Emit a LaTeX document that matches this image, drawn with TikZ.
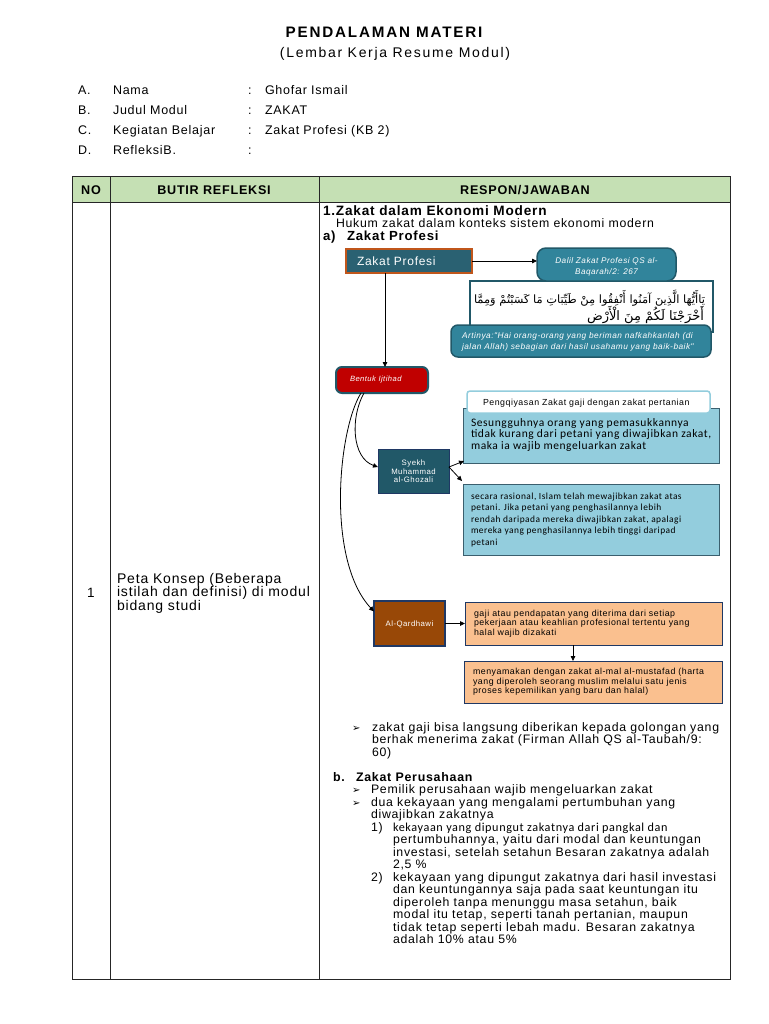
\documentclass[tikz,border=0pt]{standalone}
\usepackage{fontspec}
\usepackage{graphicx}
\usetikzlibrary{arrows.meta}
\setmainfont{Liberation Sans}
\newfontfamily\bodyf[LetterSpace=6]{Liberation Sans}
\newfontfamily\titlef[LetterSpace=12]{Liberation Sans}
\newfontfamily\subf[LetterSpace=12]{Liberation Sans}
\newfontfamily\calfa[LetterSpace=5]{Carlito}
\newfontfamily\calfb[LetterSpace=5]{Carlito}
\newfontfamily\calfc[LetterSpace=5]{Carlito}
\newfontfamily\arabicfont[Script=Arabic]{DejaVu Sans}
\newfontfamily\symf{DejaVu Sans}
\TeXXeTstate=1
\newcommand\fsz[1]{\fontsize{#1}{#1}\selectfont}
\definecolor{hdrgreen}{HTML}{C5E0B4}
\definecolor{zpteal}{HTML}{2A6172}
\definecolor{zporange}{HTML}{C0561B}
\definecolor{tealmid}{HTML}{31849B}
\definecolor{tealdark}{HTML}{215868}
\definecolor{bentred}{HTML}{C00000}
\definecolor{lblue}{HTML}{93CDDD}
\definecolor{lblueborder}{HTML}{3B5F6E}
\definecolor{qarbrown}{HTML}{984807}
\definecolor{navy}{HTML}{1F3864}
\definecolor{peach}{HTML}{FAC08F}
\tikzset{
  t/.style={inner sep=0pt, outer sep=0pt, anchor=base west},
  tc/.style={inner sep=0pt, outer sep=0pt, anchor=base},
  boxbase/.style={inner sep=0pt, outer sep=0pt, anchor=north west},
  tblline/.style={draw=black!85, line width=1pt},
  arr/.style={-{Triangle[length=5pt,width=4.5pt]}, line width=0.8pt, black},
  body/.style={t, font=\bodyf\fsz{12.3}},
  bodyb/.style={t, font=\bodyf\bfseries\fsz{12.4}},
  bul/.style={t, font=\symf\fsz{10}},
  wsmall/.style={tc, text=white, font=\bodyf\fsz{7.8}},
  orng/.style={t, font=\bodyf\fsz{8.8}},
  hd/.style={t, font=\bodyf\fsz{12.5}},
  arabline/.style={inner sep=0pt, outer sep=0pt, anchor=north east, font=\arabicfont},
}
\begin{document}
\begin{tikzpicture}[x=1pt,y=-1pt]
\useasboundingbox (0,0) rectangle (768,1024);
\fill[white] (0,0) rectangle (768,1024);

% ---------- heading ----------
\node[tc, font=\titlef\bfseries\fsz{15.2}] (title) at (384,38) {PENDALAMAN MATERI};
\node[tc, font=\subf\fsz{14}] (subtitle) at (395,57.5) {(Lembar Kerja Resume Modul)};

\node[hd] (la) at (78,95) {A.};
\node[hd] (na) at (113,95) {Nama};
\node[hd] (ca) at (248,95) {:};
\node[hd] (va) at (265,95) {Ghofar Ismail};
\node[hd] (lb) at (78,115) {B.};
\node[hd] (nb) at (113,115) {Judul Modul};
\node[hd] (cb) at (248,115) {:};
\node[hd] (vb) at (265,115) {ZAKAT};
\node[hd] (lc) at (78,135) {C.};
\node[hd] (nc) at (113,135) {Kegiatan Belajar};
\node[hd] (cc) at (248,135) {:};
\node[hd] (vc) at (265,135) {Zakat Profesi (KB 2)};
\node[hd] (ld) at (78,154.5) {D.};
\node[hd] (nd) at (113,154.5) {RefleksiB.};
\node[hd] (cd) at (248,154.5) {:};

% ---------- table ----------
\fill[hdrgreen] (72,177) rectangle (730,203);
\draw[tblline] (72,177) rectangle (730,979);
\draw[tblline] (72,203) -- (730,203);
\draw[tblline] (110,177) -- (110,979);
\draw[tblline] (319,177) -- (319,979);
\node[tc, font=\bodyf\bfseries\fsz{12.6}] (hno) at (91,194.5) {NO};
\node[tc, font=\bodyf\bfseries\fsz{12.6}] (hbut) at (214,194.5) {BUTIR REFLEKSI};
\node[tc, font=\bodyf\bfseries\fsz{12.6}] (hres) at (525,194.5) {RESPON/JAWABAN};

\node[tc, font=\bodyf\fsz{13.5}] (no1) at (91,597) {1};
\node[t, font=\bodyf\fsz{14}] (pk1) at (117,583) {Peta Konsep (Beberapa};
\node[t, font=\bodyf\fsz{14}] (pk2) at (117,596.5) {istilah dan definisi) di modul};
\node[t, font=\bodyf\fsz{14}] (pk3) at (117,610) {bidang studi};

% ---------- right column top text ----------
\node[t, font=\bodyf\bfseries\fsz{13.6}] (h1) at (323,216) {1.Zakat dalam Ekonomi Modern};
\node[body] (h1b) at (336,228) {Hukum zakat dalam konteks sistem ekonomi modern};
\node[t, font=\bodyf\bfseries\fsz{13.2}] (ha) at (323,240.5) {a)};
\node[t, font=\bodyf\bfseries\fsz{13.2}] (hab) at (347,240.5) {Zakat Profesi};

% ---------- concept map ----------
\node[boxbase, fill=white, draw=tealdark, line width=2pt, minimum width=243pt, minimum height=51pt] (arab) at (470,281) {};
\node[boxbase, fill=tealmid, draw=tealdark, line width=1.5pt, rounded corners=9pt, minimum width=139pt, minimum height=33pt] (dalil) at (537,248) {};
\node[tc, text=white, font=\bodyf\itshape\fsz{8.2}] (dal1) at (606.5,263.5) {Dalil Zakat Profesi QS al-};
\node[tc, text=white, font=\bodyf\itshape\fsz{8.2}] (dal2) at (606.5,274.5) {Baqarah/2: 267};
\node[arabline] (arab1) at (705,290) {\resizebox{231pt}{!}{\beginR يَاأَيُّهَا الَّذِينَ آمَنُوا أَنْفِقُوا مِنْ طَيِّبَاتِ مَا كَسَبْتُمْ وَمِمَّا\endR}};
\node[arabline] (arab2) at (704,306) {\resizebox{117pt}{!}{\beginR أَخْرَجْنَا لَكُمْ مِنَ الْأَرْضِ\endR}};
\node[boxbase, fill=tealmid, draw=tealdark, line width=1.5pt, rounded corners=7pt, minimum width=260pt, minimum height=32pt] (arti) at (451,325) {};
\node[t, text=white, font=\bodyf\itshape\fsz{8.3}] (art1) at (462,338.5) {Artinya:"Hai orang-orang yang beriman nafkahkanlah (di};
\node[t, text=white, font=\bodyf\itshape\fsz{8.3}] (art2) at (462,349.5) {jalan Allah) sebagian dari hasil usahamu yang baik-baik"};

\node[boxbase, fill=zpteal, draw=zporange, line width=2pt, minimum width=126pt, minimum height=24pt] (zp) at (346,249) {};
\node[t, text=white, font=\bodyf\fsz{12}] (zptxt) at (357,265.5) {Zakat Profesi};

\node[boxbase, fill=bentred, draw=tealdark, line width=2pt, rounded corners=6pt, minimum width=92pt, minimum height=26pt] (bent) at (336,367) {};
\node[t, text=white, font=\bodyf\itshape\fsz{7.6}] (benttxt) at (350,381.5) {Bentuk Ijtihad};

\node[boxbase, fill=lblue, draw=lblueborder, line width=1pt, minimum width=256pt, minimum height=55pt] (b1) at (463,408) {};
\node[boxbase, fill=white, draw=lblue, line width=1.5pt, rounded corners=3pt, minimum width=243pt, minimum height=22pt] (peng) at (467,391) {};
\node[t, font=\bodyf\fsz{8.8}] (pengtxt) at (483,405) {Pengqiyasan Zakat gaji dengan zakat pertanian};
\node[t, font=\calfa\fsz{11.5}] (b1l1) at (471,426) {Sesungguhnya orang yang pemasukkannya};
\node[t, font=\calfa\fsz{11.5}] (b1l2) at (471,437.5) {tidak kurang dari petani yang diwajibkan zakat,};
\node[t, font=\calfa\fsz{11.5}] (b1l3) at (471,449) {maka ia wajib mengeluarkan zakat};

\node[boxbase, fill=tealdark, draw=navy, line width=1pt, minimum width=71pt, minimum height=44pt] (syekh) at (378,449) {};
\node[wsmall] (sy1) at (413.5,465.5) {Syekh};
\node[wsmall] (sy2) at (413.5,474) {Muhammad};
\node[wsmall] (sy3) at (413.5,482.5) {al-Ghozali};

\node[boxbase, fill=lblue, draw=lblueborder, line width=1pt, minimum width=256pt, minimum height=71pt] (b2) at (463,484) {};
\node[t, font=\calfb\fsz{9.4}] (b2l1) at (471,499) {secara rasional, Islam telah mewajibkan zakat atas};
\node[t, font=\calfb\fsz{9.4}] (b2l2) at (471,510.5) {petani. Jika petani yang penghasilannya lebih};
\node[t, font=\calfb\fsz{9.4}] (b2l3) at (471,522) {rendah daripada mereka diwajibkan zakat, apalagi};
\node[t, font=\calfb\fsz{9.4}] (b2l4) at (471,533.5) {mereka yang penghasilannya lebih tinggi daripad};
\node[t, font=\calfb\fsz{9.4}] (b2l5) at (471,545) {petani};

\node[boxbase, fill=qarbrown, draw=navy, line width=1.2pt, minimum width=71pt, minimum height=45pt] (qar) at (374,601) {};
\node[wsmall] (qartxt) at (409.5,626) {Al-Qardhawi};

\node[boxbase, fill=peach, draw=navy, line width=1pt, minimum width=257pt, minimum height=43pt] (o1) at (465,602) {};
\node[orng] (o1l1) at (474,616) {gaji atau pendapatan yang diterima dari setiap};
\node[orng] (o1l2) at (474,625.5) {pekerjaan atau keahlian profesional tertentu yang};
\node[orng] (o1l3) at (474,635) {halal wajib dizakati};

\node[boxbase, fill=peach, draw=navy, line width=1pt, minimum width=258pt, minimum height=42pt] (o2) at (464,661) {};
\node[orng] (o2l1) at (473,674.5) {menyamakan dengan zakat al-mal al-mustafad (harta};
\node[orng] (o2l2) at (473,684) {yang diperoleh seorang muslim melalui satu jenis};
\node[orng] (o2l3) at (473,693.5) {proses kepemilikan yang baru dan halal)};

% connectors
\draw[arr] (zp.east) -- (zp.east -| dalil.west);
\draw[arr] ([xshift=39pt]zp.south west) -- ([xshift=49pt]bent.north west);
\coordinate (bs1) at (364,393);
\coordinate (bs2) at (361,393);
\draw[arr] (bs1) .. controls (350,418) and (352,458) .. ([yshift=4pt]syekh.west);
\draw[arr] (bs2) .. controls (338,430) and (326,560) .. ([yshift=12pt]qar.west);
\draw[arr] ([yshift=4pt]syekh.east) -- ([xshift=1pt,yshift=2pt]b1.south west);
\draw[arr] ([yshift=4pt]syekh.east) -- ([xshift=-1pt,yshift=3pt]b2.north west);
\draw[arr] (qar.east) -- (qar.east -| o1.west);
\draw[arr] ([xshift=108pt]o1.south west) -- ([xshift=109pt]o2.north west);

% ---------- right column bottom text ----------
\node[bul] (bu1) at (352,731) {➢};
\node[body] (z1) at (372,731) {zakat gaji bisa langsung diberikan kepada golongan yang};
\node[body] (z2) at (372,743.5) {berhak menerima zakat (Firman Allah QS al-Taubah/9:};
\node[body] (z3) at (372,756) {60)};

\node[bodyb] (bb) at (333,781) {b.};
\node[bodyb] (bb2) at (356,781) {Zakat Perusahaan};
\node[bul] (bu2) at (352,793.5) {➢};
\node[body] (p1) at (371,793.5) {Pemilik perusahaan wajib mengeluarkan zakat};
\node[bul] (bu3) at (352,806) {➢};
\node[body] (p2) at (371,806) {dua kekayaan yang mengalami pertumbuhan yang};
\node[body] (p3) at (371,818.5) {diwajibkan zakatnya};
\node[body] (n1) at (371,831) {1)};
\node[t, font=\calfc\fsz{12.2}] (k1) at (393,831) {kekayaan yang dipungut zakatnya dari pangkal dan};
\node[body] (k2) at (393,843.5) {pertumbuhannya, yaitu dari modal dan keuntungan};
\node[body] (k3) at (393,856) {investasi, setelah setahun Besaran zakatnya adalah};
\node[body] (k4) at (393,868.5) {2,5 \%};
\node[body] (n2) at (371,881) {2)};
\node[body] (m1) at (393,881) {kekayaan yang dipungut zakatnya dari hasil investasi};
\node[body] (m2) at (393,893.5) {dan keuntungannya saja pada saat keuntungan itu};
\node[body] (m3) at (393,906) {diperoleh tanpa menunggu masa setahun, baik};
\node[body] (m4) at (393,918.5) {modal itu tetap, seperti tanah pertanian, maupun};
\node[body] (m5) at (393,931) {tidak tetap seperti lebah madu. Besaran zakatnya};
\node[body] (m6) at (393,943.5) {adalah 10\% atau 5\%};
\end{tikzpicture}
\end{document}
